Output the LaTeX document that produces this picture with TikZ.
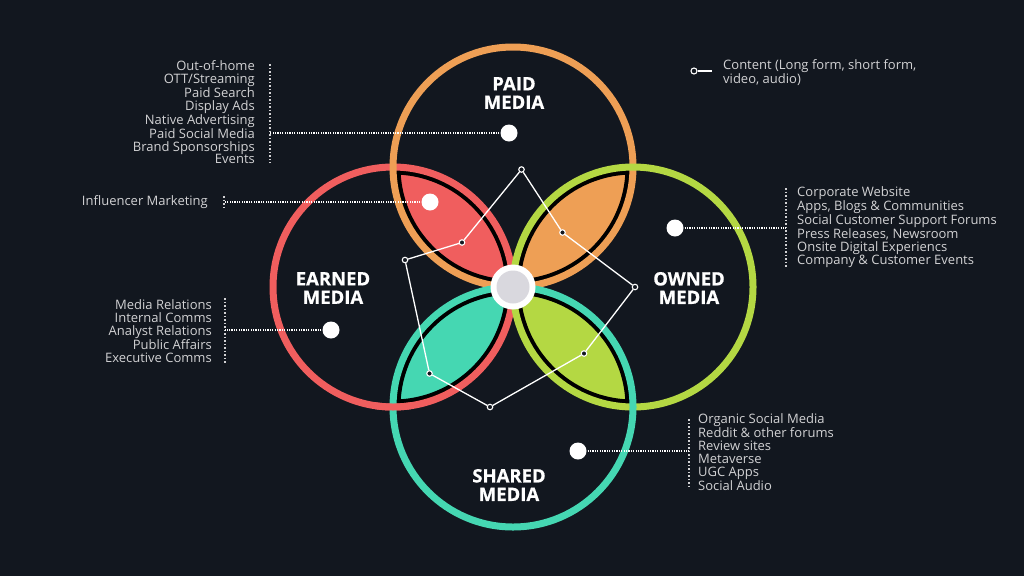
\documentclass[tikz,border=0pt]{standalone}
\usepackage{fontspec}
\setmainfont{Open Sans}
\newfontfamily\heavyfont{Open Sans}[BoldFeatures={FakeBold=0.6}]
\definecolor{bg}{HTML}{12171F}
\definecolor{cpaid}{HTML}{EE9F55}
\definecolor{cearned}{HTML}{F05E5E}
\definecolor{cowned}{HTML}{B4D843}
\definecolor{cshared}{HTML}{45D7B2}
\definecolor{ctext}{HTML}{D2D2D4}
\definecolor{ccenter}{HTML}{D9D8DE}
\newcommand\petal[3]{%
  \begin{scope}
    \clip (#1) circle (120pt);
    \clip (#2) circle (120pt);
    \fill[#3] (#1) circle (130pt);
    \draw[black, line width=15pt] (#1) circle (120pt) (#2) circle (120pt);
  \end{scope}}
\begin{document}
\begin{tikzpicture}[x=1pt,y=-1pt,
  ring/.style={line width=7pt},
  wdot/.style={circle, fill=white, minimum size=17pt, inner sep=0pt},
  vtx/.style={circle, draw=white, fill=bg, line width=1.1pt, minimum size=5.5pt, inner sep=0pt},
  hdots/.style={white, line width=1.1pt, dash pattern=on 1.2pt off 1.2pt},
  vdots/.style={ctext, line width=1.6pt, dash pattern=on 1.6pt off 1.9pt},
  lst/.style={text=ctext, inner sep=0pt, font=\fontsize{13}{12.75}\selectfont},
  ttl/.style={text=white, align=center, inner sep=0pt, font=\heavyfont\fontsize{18.5}{18.5}\selectfont\bfseries},
]
\fill[bg] (0,0) rectangle (1024,576);
\useasboundingbox (0,0) rectangle (1024,576);

\coordinate (P) at (513,167);
\coordinate (E) at (393,287);
\coordinate (O) at (633,287);
\coordinate (S) at (513,407);

% petals
\petal{P}{E}{cearned}
\petal{P}{O}{cpaid}
\petal{O}{S}{cowned}
\petal{E}{S}{cshared}

% rings (cyclic overlap at the outer tips)
\draw[ring, cearned] (E) circle (120pt);
\draw[ring, cpaid] (P) circle (120pt);
\draw[ring, cowned] (O) circle (120pt);
\draw[ring, cshared] (S) circle (120pt);
\begin{scope}
  \clip (375,389) rectangle (411,425);
  \draw[ring, cearned] (E) circle (120pt);
\end{scope}

% content polygon
\node[vtx] (v1) at (521.5,169.5) {};
\node[vtx] (v2) at (562.5,232.5) {};
\node[vtx] (v3) at (635,287) {};
\node[vtx] (v4) at (584,353.5) {};
\node[vtx] (v5) at (490,407) {};
\node[vtx] (v6) at (429.5,373.5) {};
\node[vtx] (v7) at (405,260) {};
\node[vtx] (v8) at (462,242.5) {};
\draw[white, line width=1.3pt] (v1) -- (v2) -- (v3) -- (v4) -- (v5) -- (v6) -- (v7) -- (v8) -- (v1);

% center
\node[circle, fill=white, minimum size=45pt, inner sep=0pt] (c0) at (513,287) {};
\node[circle, fill=ccenter, minimum size=33pt, inner sep=0pt] (c1) at (513,287) {};

% titles
\node[ttl] (tpaid) at (514,93) {PAID\\MEDIA};
\node[ttl] (tearned) at (333,288) {EARNED\\MEDIA};
\node[ttl] (towned) at (689,288) {OWNED\\MEDIA};
\node[ttl] (tshared) at (509,485) {SHARED\\MEDIA};

% white dots
\node[wdot] (dpaid) at (509,133) {};
\node[wdot] (dinfl) at (430,202) {};
\node[wdot] (downed) at (675,228) {};
\node[wdot] (dearned) at (331,330) {};
\node[wdot] (dshared) at (578,451) {};

% bars
\coordinate (bp1) at (270,64);  \coordinate (bp2) at (270,163);
\coordinate (bi1) at (224,196); \coordinate (bi2) at (224,209);
\coordinate (bo1) at (786,188); \coordinate (bo2) at (786,268);
\coordinate (be1) at (225,298); \coordinate (be2) at (225,364);
\coordinate (bs1) at (689,419); \coordinate (bs2) at (689,486);
\draw[vdots] (bp1) -- (bp2);
\draw[vdots] (bi1) -- (bi2);
\draw[vdots] (bo1) -- (bo2);
\draw[vdots] (be1) -- (be2);
\draw[vdots] (bs1) -- (bs2);

\draw[hdots] (dpaid.center) -- (dpaid.center -| bp1);
\draw[hdots] (dinfl.center) -- (dinfl.center -| bi1);
\draw[hdots] (downed.center) -- (downed.center -| bo1);
\draw[hdots] (dearned.center) -- (dearned.center -| be1);
\draw[hdots] (dshared.center) -- (dshared.center -| bs1);

% lists
\node[lst, align=right, anchor=east] (lpaid) at (255,112.5) {Out-of-home\\OTT/Streaming\\Paid Search\hspace{3pt}\\Display Ads\\Native Advertising\\Paid Social Media\\Brand Sponsorships\\Events\hspace{3pt}};
\node[lst, anchor=east] (linfl) at (208,202) {Influencer Marketing};
\node[lst, align=right, anchor=east] (learned) at (212,331) {Media Relations\\Internal Comms\\Analyst Relations\\Public Affairs\\Executive Comms};
\node[lst, align=left, anchor=west] (lowned) at (797,227) {Corporate Website\\Apps, Blogs \& Communities\\Social Customer Support Forums\\Press Releases, Newsroom\\Onsite Digital Experiencs\\Company \& Customer Events};
\node[lst, align=left, anchor=west] (lshared) at (698,452) {Organic Social Media\\Reddit \& other forums\\Review sites\\Metaverse\\UGC Apps\\Social Audio};

% legend
\node[vtx, minimum size=6pt] (lg) at (694,71) {};
\coordinate (lge) at (712,71);
\draw[white, line width=1.3pt] (lg) -- (lge);
\node[lst, align=left, anchor=west] (lgt) at (723,72.5) {Content (Long form, short form,\\video, audio)};
\end{tikzpicture}
\end{document}
